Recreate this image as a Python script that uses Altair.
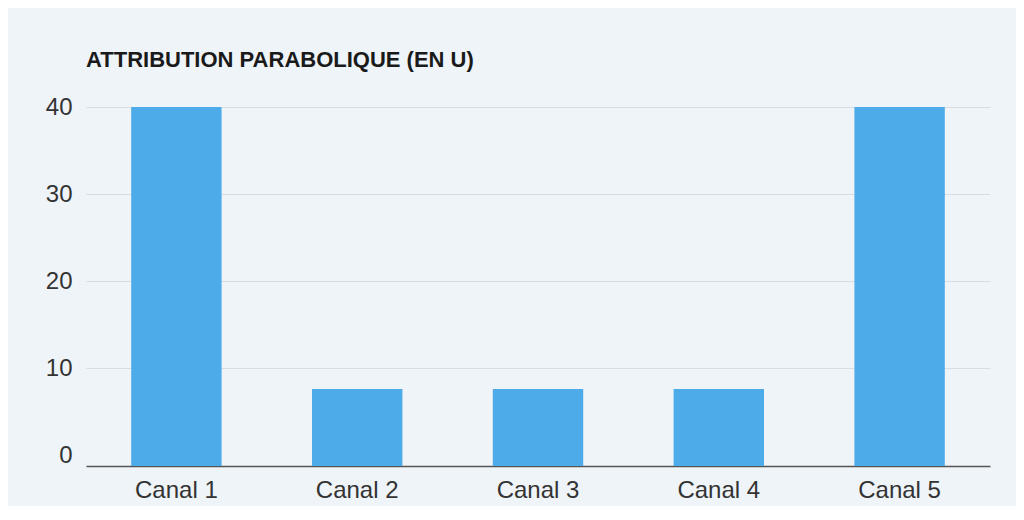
import altair as alt
import pandas as pd

categories = ["Canal 1", "Canal 2", "Canal 3", "Canal 4", "Canal 5"]
values = [40, 7.6, 7.6, 7.6, 40]
tick_values = [0, 10, 20, 30, 40]

df = pd.DataFrame({"canal": categories, "valeur": values})

chart = alt.Chart(df).mark_bar(color="#4eabe9").encode(
    x=alt.X("canal:N", sort=categories,
            scale=alt.Scale(paddingInner=0.5, paddingOuter=0.25),
            axis=alt.Axis(title=None, labelAngle=0, labelFontSize=24, labelColor="#333333",
                          labelFont="Liberation Sans", ticks=False, labelPadding=12,
                          domainColor="#555555", domainWidth=1.5, grid=False)),
    y=alt.Y("valeur:Q", scale=alt.Scale(domain=[-1.26, 40], nice=False, zero=False),
            axis=alt.Axis(title=None, values=tick_values, labelFontSize=24, labelColor="#333333",
                          labelFont="Liberation Sans", ticks=False, domain=False, labelPadding=14,
                          gridColor="#d9dde2", gridWidth=1,
                          gridOpacity=alt.ExprRef("datum.value === 0 ? 0 : 1"))),
    y2=alt.datum(-1.26),
).properties(
    width=904,
    height=359,
    title=alt.TitleParams("ATTRIBUTION PARABOLIQUE (EN U)", anchor="start", fontSize=22,
                          font="Liberation Sans", fontWeight="bold", color="#1a1a1a",
                          baseline="alphabetic", offset=6, frame="group"),
    background="#eff4f8",
    padding={"left": 78, "top": 99, "right": 26, "bottom": 40},
    autosize=alt.AutoSizeParams(type="none"),
).configure_view(stroke=None)

chart.save("out.html", embed_options={"renderer": "svg", "actions": False})
